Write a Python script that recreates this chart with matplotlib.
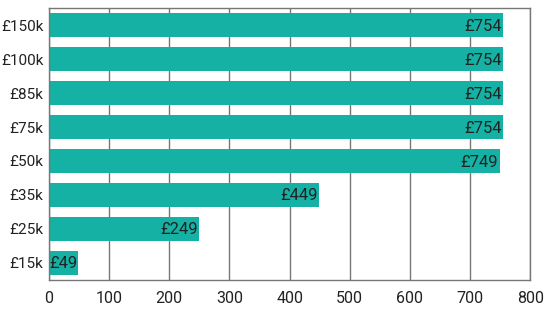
import matplotlib.pyplot as plt

salaries = ["£150k", "£100k", "£85k", "£75k", "£50k", "£35k", "£25k", "£15k"]
costs = [754, 754, 754, 754, 749, 449, 249, 49]
labels = ["£754", "£754", "£754", "£754", "£749", "£449", "£249", "£49"]

plt.rcParams['font.family'] = ['Roboto', 'DejaVu Sans']

fig = plt.figure(figsize=(5.5, 3.1), dpi=100)
ax = fig.add_axes([0.089, 0.097, 0.875, 0.877])

ypos = list(range(len(salaries)))
ax.barh(ypos, costs, height=0.72, color="#14b1a4", zorder=2)
for y, c, t in zip(ypos, costs, labels):
    ax.text(c - 2, y + 0.03, t, ha="right", va="center", fontsize=12,
            color="#222222", zorder=3)

ax.set_xlim(0, 800)
ax.set_ylim(len(salaries) - 0.5, -0.5)
ax.set_yticks(ypos)
ax.set_yticklabels(salaries)
ax.set_xticks(range(0, 801, 100))
ax.tick_params(axis="both", length=0, colors="#222222")
ax.tick_params(axis="x", pad=8, labelsize=11.5)
ax.tick_params(axis="y", pad=4, labelsize=11)
ax.grid(axis="x", color="#777777", linewidth=1, zorder=1)
for s in ax.spines.values():
    s.set_color("#777777")
    s.set_linewidth(1)

plt.savefig("out.png", dpi=100)
